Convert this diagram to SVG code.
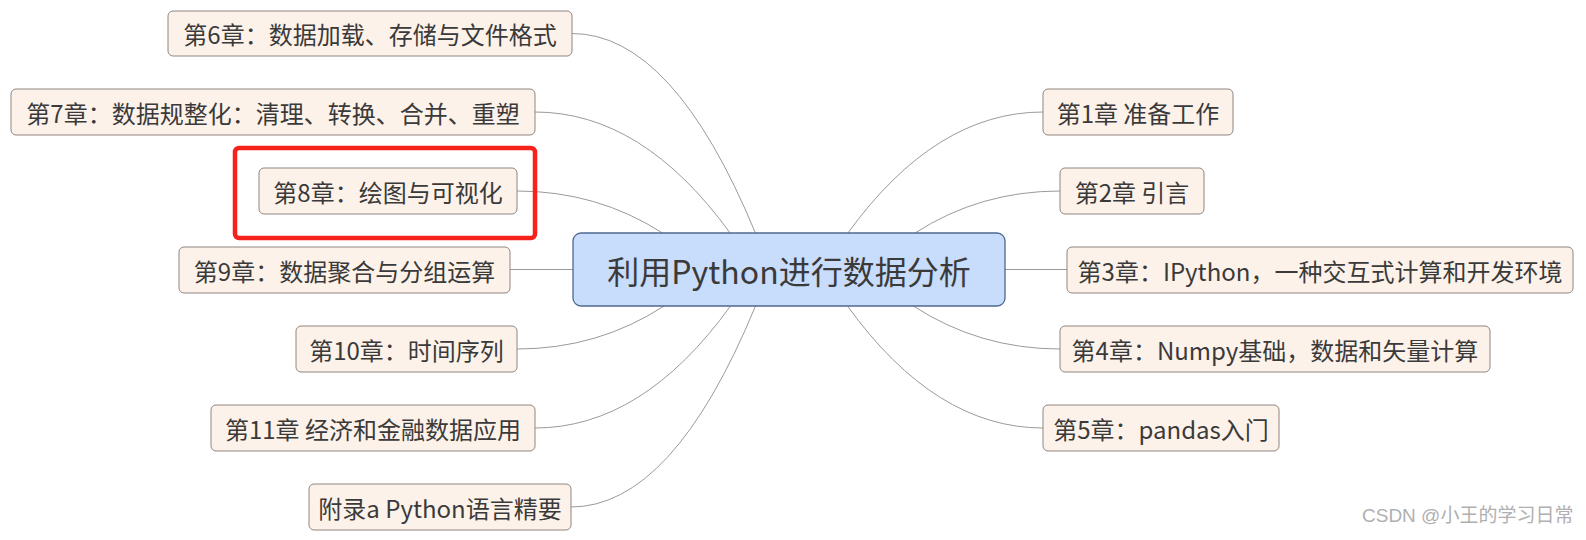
<svg xmlns="http://www.w3.org/2000/svg" width="1586" height="540" viewBox="0 0 1586 540">
<style>
.bg{fill:#ffffff}
.node rect{fill:#fdf2ea;stroke:#8f8680;stroke-width:1}
.node text{font-family:"Noto Sans CJK SC","Noto Sans",sans-serif;font-size:24px;fill:#3a3a3a;text-anchor:middle;dominant-baseline:central}
.main rect{fill:#c8dcfb;stroke:#4f6890;stroke-width:1.3}
.main text{font-family:"Noto Sans CJK SC","Noto Sans",sans-serif;font-size:32px;fill:#3a3a3a;text-anchor:middle;dominant-baseline:central}
.conn path{fill:none;stroke:#9a9a9a;stroke-width:1}
.hl{fill:none;stroke:#f5231c;stroke-width:4.5}
.wm{font-family:"Liberation Sans","Noto Sans CJK SC",sans-serif;font-size:19px;fill:#b0b0b0}
</style>
<rect class="bg" x="0" y="0" width="1586" height="540"/>
<g id="connectors" class="conn">
<path d="M755.4,233 Q672.9,33.5 572,33.5"/>
<path d="M730.1,233 Q642.3,112 535,112"/>
<path d="M662.5,233 Q597,191 517,191"/>
<path d="M573,269.5 L510,269.5"/>
<path d="M664.1,306 Q597.9,349 517,349"/>
<path d="M730.5,306 Q642.5,428 535,428"/>
<path d="M755.5,306 Q672.5,507 571,507"/>
<path d="M847.9,233 Q935.7,112 1043,112"/>
<path d="M915,233 Q980.3,191 1060,191"/>
<path d="M1005,269.5 L1067,269.5"/>
<path d="M913.4,306 Q979.4,349 1060,349"/>
<path d="M847.5,306 Q935.5,428 1043,428"/>
</g>
<g id="main" class="main">
<rect x="573" y="233" width="432" height="73" rx="8"/>
<text x="789" y="269.5">利用Python进行数据分析</text>
</g>
<g id="ch6" class="node"><rect x="168" y="11" width="404" height="45" rx="5"/><text x="370" y="33.5">第6章：数据加载、存储与文件格式</text></g>
<g id="ch7" class="node"><rect x="11" y="89" width="524" height="46" rx="5"/><text x="273" y="112">第7章：数据规整化：清理、转换、合并、重塑</text></g>
<g id="ch8" class="node"><rect x="259" y="168" width="258" height="46" rx="5"/><text x="388" y="191">第8章：绘图与可视化</text></g>
<g id="ch9" class="node"><rect x="179" y="247" width="331" height="46" rx="5"/><text x="344.5" y="270">第9章：数据聚合与分组运算</text></g>
<g id="ch10" class="node"><rect x="296" y="326" width="221" height="46" rx="5"/><text x="406.5" y="349">第10章：时间序列</text></g>
<g id="ch11" class="node"><rect x="211" y="405" width="324" height="46" rx="5"/><text x="373" y="428">第11章 经济和金融数据应用</text></g>
<g id="appa" class="node"><rect x="309" y="484" width="262" height="46" rx="5"/><text x="440" y="507">附录a Python语言精要</text></g>
<g id="ch1" class="node"><rect x="1043" y="89" width="190" height="46" rx="5"/><text x="1138" y="112">第1章 准备工作</text></g>
<g id="ch2" class="node"><rect x="1060" y="168" width="144" height="46" rx="5"/><text x="1132" y="191">第2章 引言</text></g>
<g id="ch3" class="node"><rect x="1067" y="247" width="506" height="46" rx="5"/><text x="1320" y="270">第3章：IPython，一种交互式计算和开发环境</text></g>
<g id="ch4" class="node"><rect x="1060" y="326" width="430" height="46" rx="5"/><text x="1275" y="349">第4章：Numpy基础，数据和矢量计算</text></g>
<g id="ch5" class="node"><rect x="1043" y="405" width="236" height="46" rx="5"/><text x="1161" y="428">第5章：pandas入门</text></g>
<rect id="highlight" class="hl" x="235" y="148" width="300" height="90" rx="4"/>
<text id="watermark" class="wm" x="1362" y="522">CSDN @小王的学习日常</text>
</svg>
